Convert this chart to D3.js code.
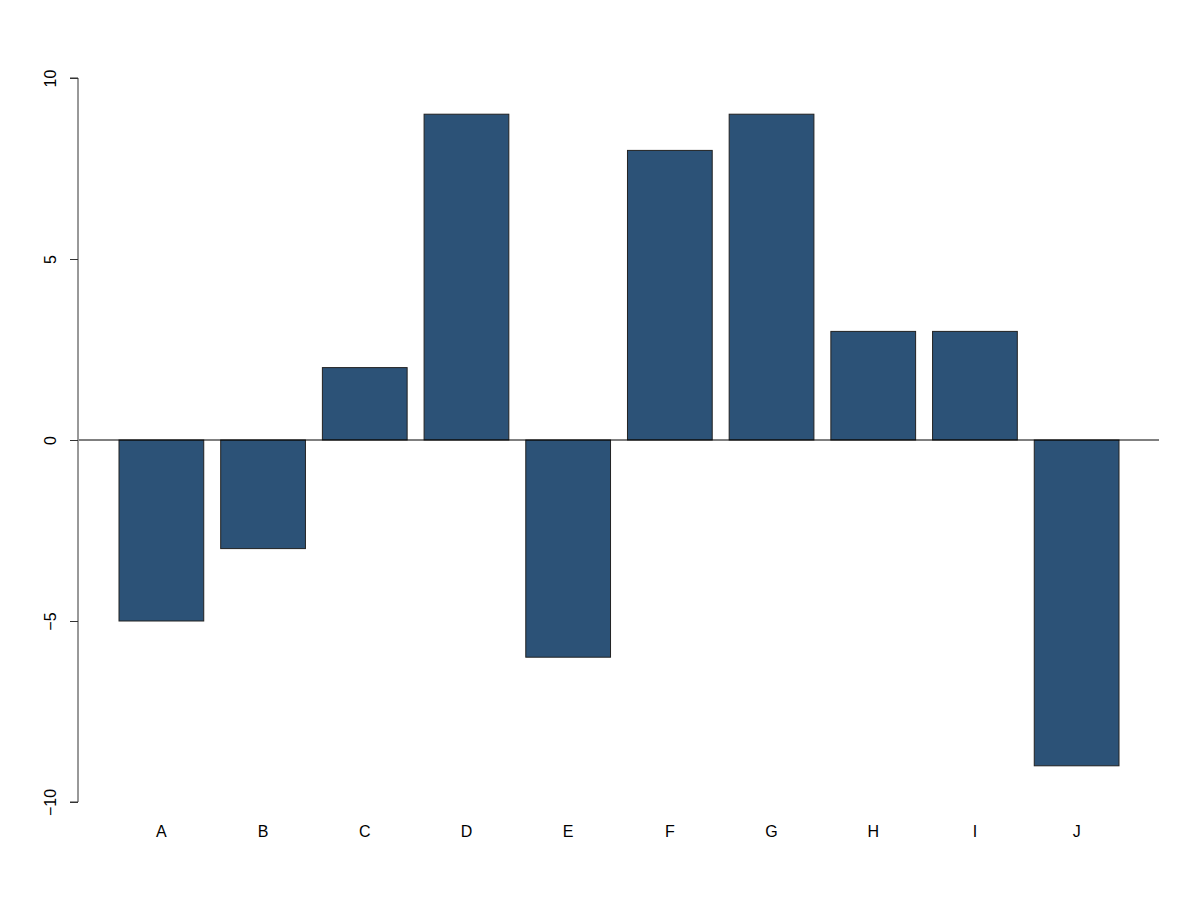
<!DOCTYPE html>
<head>
<style>
body { margin: 0; background: #fff; }
text { font-family: "Liberation Sans", Arial, sans-serif; font-size: 16px; fill: #000; }
</style>
<meta charset="utf-8">
<title></title>
</head>
<body>
<script src="https://d3js.org/d3.v7.min.js"></script>
<script>
// bar data
var categories = ["A", "B", "C", "D", "E", "F", "G", "H", "I", "J"];
var values = [-5, -3, 2, 9, -6, 8, 9, 3, 3, -9];
var yTicks = [-10, -5, 0, 5, 10];

var width = 1200, height = 900;

var svg = d3.select("body").append("svg")
    .attr("width", width)
    .attr("height", height);

// R barplot style: width 1, space 0.2
var barW = 1, space = 0.2;
var n = categories.length;
var lo = space, hi = n * (barW + space);
var pad = (hi - lo) * 0.04;

var x = d3.scaleLinear().domain([lo - pad, hi + pad]).range([79, 1159]);
var y = d3.scaleLinear().domain([-10, 10]).range([802, 78]);

// bars
svg.append("g").selectAll("rect")
    .data(values)
    .enter().append("rect")
    .attr("x", function(d, i) { return x(space + i * (barW + space)); })
    .attr("width", function(d, i) { return x(barW) - x(0); })
    .attr("y", function(d) { return y(Math.max(0, d)); })
    .attr("height", function(d) { return Math.abs(y(d) - y(0)); })
    .style("fill", "#2c5277")
    .style("stroke", "#222")
    .style("stroke-width", 1);

// zero line
svg.append("line")
    .attr("x1", 79).attr("x2", 1159)
    .attr("y1", y(0)).attr("y2", y(0))
    .style("stroke", "#000")
    .style("stroke-width", 1);

// y axis
var yAxis = svg.append("g")
    .attr("transform", "translate(78,0)")
    .call(d3.axisLeft(y).tickValues(yTicks).tickSize(8).tickPadding(0).tickFormat(d3.format("d")));
yAxis.select(".domain").attr("d", "M-8," + y(-10) + "H0V" + y(10) + "H-8").style("stroke", "#333");
yAxis.selectAll(".tick line").style("stroke", "#333");
yAxis.selectAll(".tick text")
    .attr("x", null).attr("dy", null)
    .attr("text-anchor", "middle")
    .attr("transform", "translate(-22,0) rotate(-90)")
    .style("font-size", "16px")
    .style("font-family", "Liberation Sans, Arial, sans-serif");

// category labels
svg.append("g").selectAll("text")
    .data(categories)
    .enter().append("text")
    .attr("x", function(d, i) { return x(space + i * (barW + space) + barW / 2); })
    .attr("y", 837)
    .attr("text-anchor", "middle")
    .text(function(d) { return d; });
</script>
</body>
</html>
